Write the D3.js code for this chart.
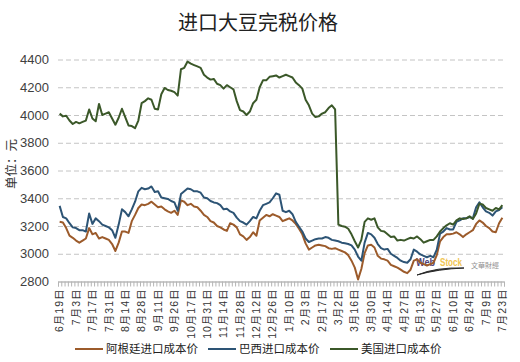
<!DOCTYPE html>
<html>
<head>
<meta charset="utf-8">
<script src="https://cdn.jsdelivr.net/npm/d3@7"></script>
<style>
  body { margin: 0; background: #fff; }
  text { font-family: "Liberation Sans", "Noto Sans CJK SC", sans-serif; }
</style>
</head>
<body>
<svg id="chart" width="520" height="362"></svg>
<script>
// category labels, one every 5 points
const tickLabels = ['6月19日','7月3日','7月17日','7月31日','8月14日','8月28日','9月11日','9月26日',
  '10月17日','10月31日','11月14日','11月28日','12月12日','12月26日','1月10日','2月3日','2月17日',
  '3月2日','3月16日','3月30日','4月14日','4月27日','5月13日','5月27日','6月10日','6月24日','7月9日','7月23日'];

const argentina = [3230,3225,3185,3130,3115,3095,3080,3095,3110,3185,3140,3150,3110,3120,3110,3100,3070,3020,3080,3160,
  3160,3150,3235,3280,3330,3355,3350,3360,3375,3355,3335,3340,3320,3305,3295,3310,
  3280,3385,3375,3350,3360,3340,3335,3310,3280,3265,3235,3225,3200,3190,3175,3165,3220,3210,3190,3140,
  3125,3100,3120,3155,3130,3240,3260,3280,3270,3285,3275,3265,3235,3245,
  3255,3240,3215,3180,3140,3075,3030,3045,3060,3065,3060,3055,3040,3035,3040,3030,3020,3010,2990,2950,
  2900,2815,2890,3005,3060,3065,3045,2985,2965,2960,2950,2920,2910,
  2900,2885,2870,2860,2885,2950,2960,2935,2925,2915,2925,2935,2990,3090,3120,3140,3140,3145,3155,3140,
  3120,3140,3155,3170,3215,3240,3225,3200,3185,3160,3155,3220,3260];

const brazil = [3345,3265,3255,3220,3190,3185,3170,3170,3160,3290,3215,3255,3235,3210,3200,3190,3170,3115,3210,3320,
  3300,3270,3320,3375,3450,3475,3465,3470,3485,3445,3450,3405,3400,3395,3380,3370,
  3310,3430,3450,3470,3465,3450,3450,3440,3405,3400,3380,3370,3365,3350,3320,3325,3305,3295,3260,3235,
  3225,3210,3235,3265,3255,3310,3350,3360,3370,3400,3435,3425,3310,3300,
  3310,3285,3230,3195,3160,3110,3085,3095,3105,3110,3110,3120,3115,3100,3095,3090,3080,3075,3070,3060,
  3030,2980,2950,3080,3150,3140,3115,3070,3040,3030,3035,3000,2985,
  2970,2950,2940,2935,2960,3030,3015,2995,2985,2975,2985,2975,3030,3145,3160,3185,3175,3175,3230,3240,
  3255,3255,3265,3255,3335,3370,3335,3305,3295,3275,3305,3315,3335];

const usa = [4010,3990,3995,3960,3935,3950,3940,3950,3960,4040,3975,3955,4080,4000,4010,4020,3975,3930,3980,4045,
  3985,3925,3920,3905,3960,4085,4100,4120,4110,4045,4040,4150,4195,4180,4175,4165,
  4140,4330,4340,4385,4370,4360,4350,4340,4290,4270,4255,4260,4225,4215,4190,4215,4200,4185,4100,4035,
  4025,4000,4025,4085,4110,4200,4250,4250,4275,4280,4285,4270,4280,4290,4280,
  4270,4235,4215,4190,4110,4070,4010,3985,3990,4010,4020,4050,4070,4040,3210,3200,3195,3180,3140,3090,
  3045,3100,3230,3255,3245,3255,3190,3165,3160,3140,3120,3125,
  3095,3100,3095,3105,3115,3110,3125,3105,3080,3090,3100,3100,3125,3160,3185,3205,3220,3210,3240,3255,
  3250,3255,3270,3250,3290,3360,3355,3330,3320,3310,3330,3320,3350];

const yTicks = [2800,3000,3200,3400,3600,3800,4000,4200,4400];
const seriesNames = ['阿根廷进口成本价','巴西进口成本价','美国进口成本价'];
const seriesColors = ['#9c5b2b','#2d5475','#3b5829'];

const svg = d3.select('#chart');
const plotLeft = 58, plotRight = 504, plotTop = 59.5, plotBottom = 281.5;

const x = d3.scaleBand().domain(d3.range(usa.length)).range([plotLeft, plotRight]);
const xc = i => x(i) + x.bandwidth() / 2;
const y = d3.scaleLinear().domain([2800, 4400]).range([plotBottom, plotTop]);

// title
svg.append('text')
  .attr('x', 258).attr('y', 30)
  .attr('text-anchor', 'middle')
  .style('font-family', '"Noto Sans CJK SC", sans-serif')
  .style('font-size', '20px')
  .attr('fill', '#222')
  .text('进口大豆完税价格');

// y axis + dashed grid
const yAxis = svg.append('g')
  .attr('transform', `translate(${plotLeft},0)`)
  .call(d3.axisLeft(y).tickValues(yTicks).tickSize(-(plotRight - plotLeft)).tickPadding(9).tickFormat(d3.format('d')));
yAxis.select('.domain').remove();
yAxis.selectAll('line')
  .attr('stroke', '#c4c4c4')
  .attr('stroke-dasharray', d => d === 2800 ? null : '5,3');
yAxis.selectAll('text')
  .style('font-size', '13px')
  .attr('fill', '#404040');

// y title
svg.append('text')
  .attr('transform', 'translate(16,164) rotate(-90)')
  .attr('text-anchor', 'middle')
  .style('font-family', '"Noto Sans CJK SC", sans-serif')
  .style('font-size', '12.5px')
  .attr('fill', '#333')
  .text('单位：元');

// x axis: small ticks between categories
const xEdge = d3.scaleLinear().domain([0, usa.length]).range([plotLeft, plotRight]);
const xTicks = svg.append('g')
  .attr('transform', `translate(0,${plotBottom})`)
  .call(d3.axisBottom(xEdge).tickValues(d3.range(usa.length + 1)).tickSize(5).tickFormat(''));
xTicks.selectAll('line, path').attr('stroke', '#b5b5b5');

// x labels
const xLab = svg.append('g')
  .attr('transform', `translate(0,${plotBottom})`)
  .call(d3.axisBottom(x).tickValues(d3.range(0, usa.length, 5)).tickSize(0).tickFormat(i => tickLabels[i / 5]));
xLab.select('.domain').remove();
xLab.selectAll('text')
  .attr('transform', 'rotate(-90)')
  .attr('text-anchor', 'end')
  .attr('x', -7).attr('y', 0).attr('dy', '0.35em')
  .style('font-size', '10.5px')
  .style('letter-spacing', '1px')
  .attr('fill', '#333');

// watermark
const wm = svg.append('g').attr('opacity', 0.9);
wm.append('path')
  .attr('d', 'M417,275 Q436,267 464,268 Q438,269 417,275 Z')
  .attr('fill', '#111').attr('stroke', '#111').attr('stroke-width', 1);
wm.append('text').attr('x', 416).attr('y', 266)
  .attr('textLength', 19).attr('lengthAdjust', 'spacingAndGlyphs')
  .style('font-size', '11px').style('font-weight', 'bold')
  .attr('fill', '#3b2d6b').text('Web');
wm.append('text').attr('x', 440).attr('y', 266)
  .attr('textLength', 22).attr('lengthAdjust', 'spacingAndGlyphs')
  .style('font-size', '11px').style('font-weight', 'bold')
  .attr('fill', '#f0c040').text('Stock');
wm.append('text').attr('x', 471).attr('y', 268)
  .attr('textLength', 28).attr('lengthAdjust', 'spacing')
  .style('font-family', '"Noto Sans CJK TC", sans-serif')
  .style('font-size', '7px').attr('fill', '#888').text('文華財經');

// lines
const line = d3.line().x((d, i) => xc(i)).y(d => y(d));
[argentina, brazil, usa].forEach((s, k) => {
  svg.append('path')
    .datum(s)
    .attr('d', line)
    .attr('fill', 'none')
    .attr('stroke', seriesColors[k])
    .attr('stroke-width', 2)
    .attr('stroke-linejoin', 'round');
});

// legend
const legendX = [75, 208, 330];
const leg = svg.append('g').selectAll('g')
  .data(seriesNames)
  .join('g')
  .attr('transform', (d, i) => `translate(${legendX[i]},349)`);
leg.append('line')
  .attr('x1', 0).attr('x2', 28)
  .attr('stroke', (d, i) => seriesColors[i])
  .attr('stroke-width', 2);
leg.append('text')
  .attr('x', 31).attr('dy', '0.35em')
  .style('font-family', '"Noto Sans CJK SC", sans-serif')
  .style('font-size', '11.5px')
  .attr('fill', '#222')
  .text(d => d);
</script>
</body>
</html>
